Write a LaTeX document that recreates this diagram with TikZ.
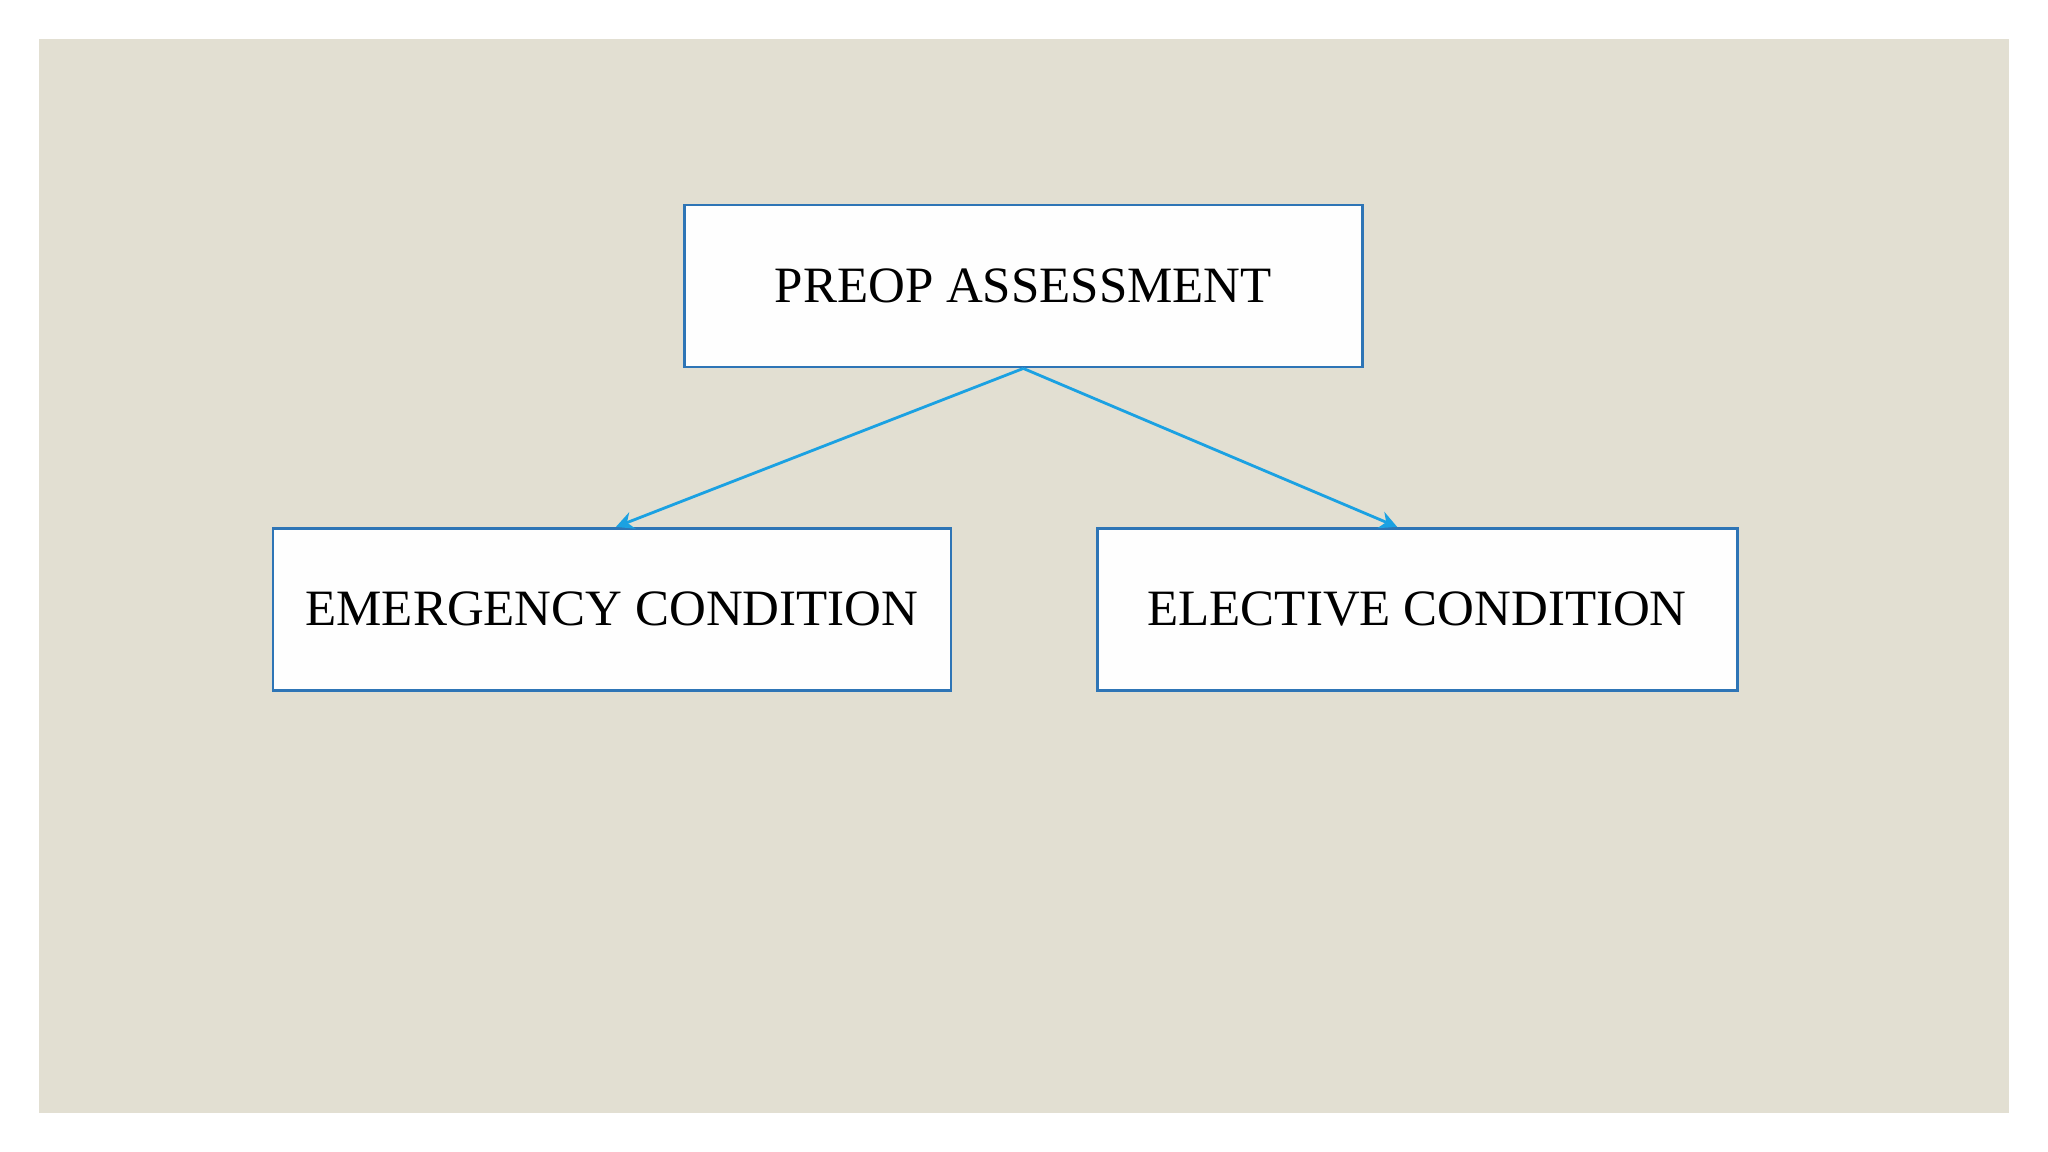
\documentclass[tikz,border=0pt]{standalone}
\usepackage{fontspec}
\setmainfont{Liberation Serif}
\usetikzlibrary{arrows.meta}
\definecolor{slide}{HTML}{E2DFD2}
\definecolor{boxline}{HTML}{2E75B6}
\definecolor{arrowline}{HTML}{1BA1E2}
\tikzset{
  card/.style={draw=boxline,fill=white!98!slide,line width=0.8pt,minimum height=1.62cm,
    font=\fontsize{14.5}{17}\selectfont,inner sep=0pt},
  link/.style={draw=arrowline,line width=0.8pt,-{Stealth[length=5pt,width=5pt]}}
}
\begin{document}
\begin{tikzpicture}[x=0.01306cm,y=-0.01306cm]
\useasboundingbox (0,0) rectangle (1568,882);
\fill[white] (0,0) rectangle (1568,882);
\fill[slide] (30,30) rectangle (1538,852);
% boxes
\node[card,minimum width=6.78cm] (preop) at (783.5,219) {PREOP ASSESSMENT};
\node[card,minimum width=6.78cm] (emerg) at (468.5,466.5) {EMERGENCY CONDITION};
\node[card,minimum width=6.40cm] (elect) at (1085,466.5) {ELECTIVE CONDITION};
% arrows
\draw[link] (preop.south) -- ([xshift=0.04cm]emerg.north);
\draw[link] (preop.south) -- ([xshift=-0.2cm]elect.north);
\end{tikzpicture}
\end{document}
